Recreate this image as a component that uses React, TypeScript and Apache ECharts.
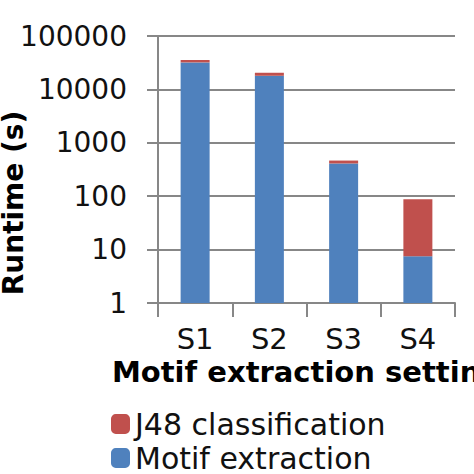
import { useEffect, useRef } from 'react'
import * as echarts from 'echarts'

const settings = ['S1', 'S2', 'S3', 'S4']
const motifExtraction = [32000, 18000, 410, 7.5]
const j48Classification = [3500, 2500, 55, 80]

const BLUE = '#4f81bd'
const RED = '#c0504d'
const GRID = '#878787'
const FONT = 'DejaVu Sans'

export default function App() {
  const ref = useRef<HTMLDivElement>(null)

  useEffect(() => {
    if (!ref.current) return
    const chart = echarts.init(ref.current, undefined, { renderer: 'svg' })
    chart.setOption({
      animation: false,
      backgroundColor: '#fff',
      textStyle: { fontFamily: FONT },
      grid: { left: 158, right: 19, top: 36, bottom: 171, containLabel: false, outerBoundsMode: 'none' },
      // y-axis title sits lower than the plot middle and is clipped at the left edge
      graphic: [
        {
          type: 'text', x: 27, y: 203, rotation: Math.PI / 2,
          style: {
            text: 'Runtime (s)', fill: '#000', textAlign: 'center', textVerticalAlign: 'bottom',
            font: `bold 28px "${FONT}"`,
          },
        },
      ],
      legend: {
        orient: 'vertical', left: 106, top: 404, height: 120,
        itemWidth: 19, itemHeight: 20, itemGap: 4,
        data: ['J48 classification', 'Motif extraction'],
        textStyle: { fontSize: 30, color: '#111', fontFamily: FONT },
      },
      xAxis: {
        type: 'category', data: settings,
        name: 'Motif extraction setting', nameLocation: 'middle', nameGap: 52,
        nameTextStyle: { fontSize: 29, fontWeight: 'bold', color: '#000', fontFamily: FONT },
        axisLine: { lineStyle: { color: GRID, width: 2 } },
        axisTick: { show: true, length: 14, lineStyle: { color: GRID, width: 2 } },
        axisLabel: { fontSize: 29, color: '#111', margin: 21 },
      },
      yAxis: {
        type: 'log', min: 1, max: 100000, logBase: 10,
        axisLine: { show: true, lineStyle: { color: GRID, width: 2 } },
        axisTick: { show: true, length: 11, lineStyle: { color: GRID, width: 2 } },
        splitLine: { show: true, lineStyle: { color: GRID, width: 2 } },
        axisLabel: { fontSize: 28, color: '#111', margin: 31, formatter: (v: number) => String(v) },
      },
      series: [
        {
          name: 'Motif extraction', type: 'bar', stack: 'total', data: motifExtraction,
          barWidth: 29, itemStyle: { color: BLUE },
        },
        {
          name: 'J48 classification', type: 'bar', stack: 'total', data: j48Classification,
          barWidth: 29, itemStyle: { color: RED },
        },
      ],
    })
    return () => chart.dispose()
  }, [])

  return <div ref={ref} style={{ position: 'fixed', left: 0, top: 0, width: 474, height: 474 }} />
}
